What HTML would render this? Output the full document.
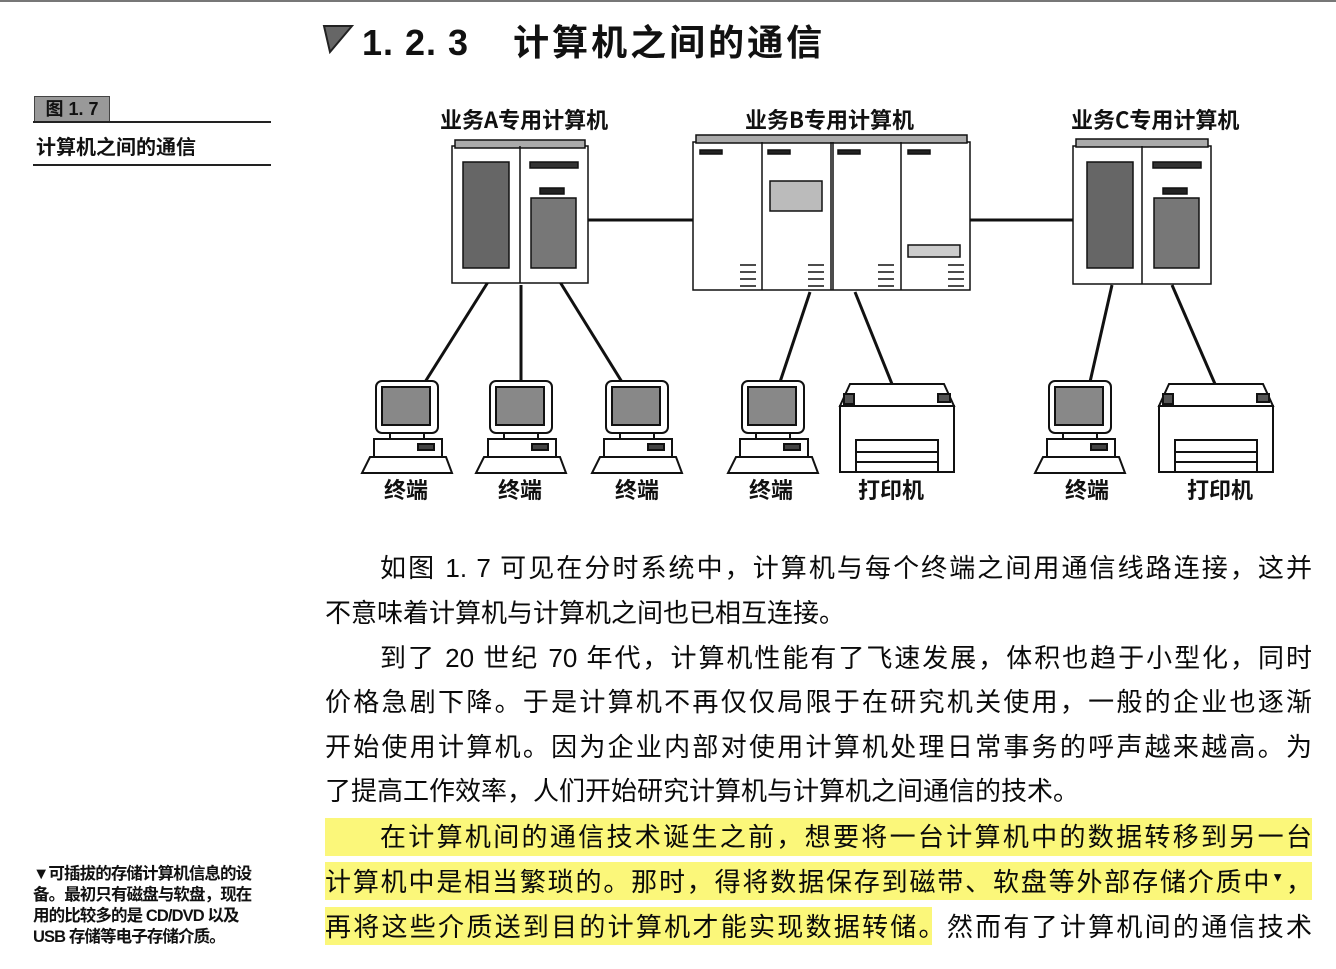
<!DOCTYPE html>
<html><head><meta charset="utf-8">
<style>
body{margin:0;width:1336px;height:969px;background:#fff;position:relative;overflow:hidden;font-family:"Liberation Sans","Noto Sans CJK SC",sans-serif;color:#111}
.abs{position:absolute}
.t{position:absolute;left:325px;width:987px;font-family:"Liberation Sans","Noto Sans CJK SC",sans-serif;font-size:26px;height:38px;line-height:38px;text-align:justify;text-align-last:justify;white-space:nowrap;color:#0a0a0a}
.t.l{text-align-last:left}
.hl{position:absolute;background:#fbf77a}
.lab{position:absolute;font-size:22px;font-family:"Noto Sans CJK SC",sans-serif;font-weight:bold}
.side{position:absolute;left:33px;font-size:16.5px;line-height:21px;white-space:nowrap;font-family:"Liberation Sans","Noto Sans CJK SC",sans-serif;font-weight:bold;letter-spacing:-0.9px}
</style></head><body>
<div class="abs" style="left:0;top:0;width:1336px;height:2px;background:#777"></div>
<svg class="abs" style="left:322px;top:24px" width="32" height="30"><polygon points="2,2 30,2 8,28" fill="#666" stroke="#222" stroke-width="2"/></svg>
<div class="abs" style="left:362px;top:14px;font-size:36px;font-weight:bold;letter-spacing:1px">1. 2. 3<span style="margin-left:44px;letter-spacing:3px">计算机之间的通信</span></div>

<div class="abs" style="left:34px;top:96px;width:74px;height:24px;background:#999;border:1px solid #444;font-size:18px;font-weight:bold;line-height:24px;color:#111;text-align:center">图 1. 7</div>
<div class="abs" style="left:33px;top:121px;width:238px;height:2px;background:#222"></div>
<div class="abs" style="left:36px;top:131px;font-size:20px;font-weight:bold">计算机之间的通信</div>
<div class="abs" style="left:33px;top:164px;width:238px;height:2px;background:#222"></div>

<svg class="abs" style="left:0;top:0" width="1336" height="520">
<g stroke="#111" stroke-width="3" fill="none">
<line x1="588" y1="220" x2="693" y2="220"/><line x1="970" y1="220" x2="1073" y2="220"/>
<line x1="488" y1="282" x2="425" y2="382"/><line x1="521" y1="285" x2="521" y2="382"/><line x1="560" y1="282" x2="622" y2="382"/>
<line x1="810" y1="292" x2="780" y2="382"/><line x1="855" y1="292" x2="892" y2="384"/>
<line x1="1112" y1="285" x2="1090" y2="382"/><line x1="1172" y1="285" x2="1215" y2="384"/>
</g>
<g stroke="#111" stroke-width="1.5">
<rect x="452" y="146" width="136" height="137" fill="#fff"/><rect x="455" y="140" width="130" height="8" fill="#aaa"/>
<line x1="520" y1="146" x2="520" y2="283"/>
<rect x="463" y="162" width="46" height="106" fill="#666"/>
<rect x="530" y="162" width="48" height="6" fill="#333"/>
<rect x="531" y="198" width="45" height="70" fill="#777"/><rect x="540" y="188" width="24" height="6" fill="#222"/>
<rect x="693" y="142" width="277" height="148" fill="#fff"/><rect x="696" y="135" width="271" height="8" fill="#aaa"/>
<line x1="762" y1="142" x2="762" y2="290"/><line x1="831" y1="142" x2="831" y2="290"/><line x1="833" y1="142" x2="833" y2="290"/><line x1="901" y1="142" x2="901" y2="290"/>
<rect x="770" y="181" width="52" height="30" fill="#bbb"/><rect x="908" y="245" width="52" height="12" fill="#ccc"/>
<rect x="700" y="150" width="22" height="4" fill="#222"/><rect x="768" y="150" width="22" height="4" fill="#222"/><rect x="838" y="150" width="22" height="4" fill="#222"/><rect x="908" y="150" width="22" height="4" fill="#222"/>
<g fill="none"><path d="M740 265h16M740 272h16M740 279h16M740 286h16M808 265h16M808 272h16M808 279h16M808 286h16M878 265h16M878 272h16M878 279h16M878 286h16M948 265h16M948 272h16M948 279h16M948 286h16"/></g>
<rect x="1073" y="146" width="138" height="138" fill="#fff"/><rect x="1076" y="139" width="132" height="8" fill="#aaa"/>
<line x1="1142" y1="146" x2="1142" y2="284"/>
<rect x="1087" y="162" width="46" height="106" fill="#666"/>
<rect x="1153" y="162" width="48" height="6" fill="#333"/>
<rect x="1154" y="198" width="45" height="70" fill="#777"/><rect x="1163" y="188" width="24" height="6" fill="#222"/>
</g>
</svg>
<svg class="abs" style="left:0;top:0" width="1336" height="520">
<defs>
<g id="tm" stroke="#111" stroke-width="2">
<rect x="14" y="0" width="62" height="52" rx="6" fill="#fff"/><rect x="20" y="6" width="48" height="38" fill="#888"/>
<rect x="28" y="52" width="34" height="6" fill="#fff"/>
<rect x="12" y="58" width="68" height="18" fill="#fff"/><rect x="56" y="63" width="16" height="6" fill="#444"/>
<polygon points="8,76 84,76 90,92 0,92" fill="#fff"/>
</g>
<g id="pr" stroke="#111" stroke-width="2">
<polygon points="10,2 104,2 114,24 0,24" fill="#fff"/>
<rect x="0" y="24" width="114" height="66" fill="#fff"/>
<rect x="16" y="58" width="82" height="32" fill="#fff"/><line x1="16" y1="70" x2="98" y2="70"/><line x1="16" y1="80" x2="98" y2="80"/>
<rect x="4" y="12" width="10" height="10" fill="#555"/><rect x="98" y="12" width="12" height="8" fill="#555"/>
</g>
</defs>
<use href="#tm" x="362" y="381"/><use href="#tm" x="476" y="381"/><use href="#tm" x="592" y="381"/><use href="#tm" x="728" y="381"/><use href="#tm" x="1035" y="381"/>
<use href="#pr" x="840" y="382"/><use href="#pr" x="1159" y="382"/>
</svg>
<div class="lab" style="left:440px;top:103px">业务A专用计算机</div>
<div class="lab" style="left:745px;top:103px">业务B专用计算机</div>
<div class="lab" style="left:1071px;top:103px">业务C专用计算机</div>
<div class="lab" style="left:384px;top:473px">终端</div>
<div class="lab" style="left:498px;top:473px">终端</div>
<div class="lab" style="left:615px;top:473px">终端</div>
<div class="lab" style="left:749px;top:473px">终端</div>
<div class="lab" style="left:858px;top:473px">打印机</div>
<div class="lab" style="left:1065px;top:473px">终端</div>
<div class="lab" style="left:1187px;top:473px">打印机</div>

<div class="hl" style="left:325px;top:818px;width:987px;height:38px"></div>
<div class="hl" style="left:325px;top:862px;width:987px;height:38px"></div>
<div class="hl" style="left:325px;top:907px;width:607px;height:38px"></div>

<div class="t" style="top:549px;padding-left:55px;width:932px">如图 1. 7 可见在分时系统中，计算机与每个终端之间用通信线路连接，这并</div>
<div class="t l" style="top:594px">不意味着计算机与计算机之间也已相互连接。</div>
<div class="t" style="top:639px;padding-left:55px;width:932px">到了 20 世纪 70 年代，计算机性能有了飞速发展，体积也趋于小型化，同时</div>
<div class="t" style="top:683px">价格急剧下降。于是计算机不再仅仅局限于在研究机关使用，一般的企业也逐渐</div>
<div class="t" style="top:728px">开始使用计算机。因为企业内部对使用计算机处理日常事务的呼声越来越高。为</div>
<div class="t l" style="top:772px">了提高工作效率，人们开始研究计算机与计算机之间通信的技术。</div>
<div class="t" style="top:818px;padding-left:55px;width:932px">在计算机间的通信技术诞生之前，想要将一台计算机中的数据转移到另一台</div>
<div class="t" style="top:863px">计算机中是相当繁琐的。那时，得将数据保存到磁带、软盘等外部存储介质中<sup style="font-size:13px;line-height:0">▼</sup>，</div>
<div class="t" style="top:908px">再将这些介质送到目的计算机才能实现数据转储。然而有了计算机间的通信技术</div>

<div class="side" style="top:864px">▼可插拔的存储计算机信息的设<br>备。最初只有磁盘与软盘，现在<br>用的比较多的是 CD/DVD 以及<br>USB 存储等电子存储介质。</div>
</body></html>
